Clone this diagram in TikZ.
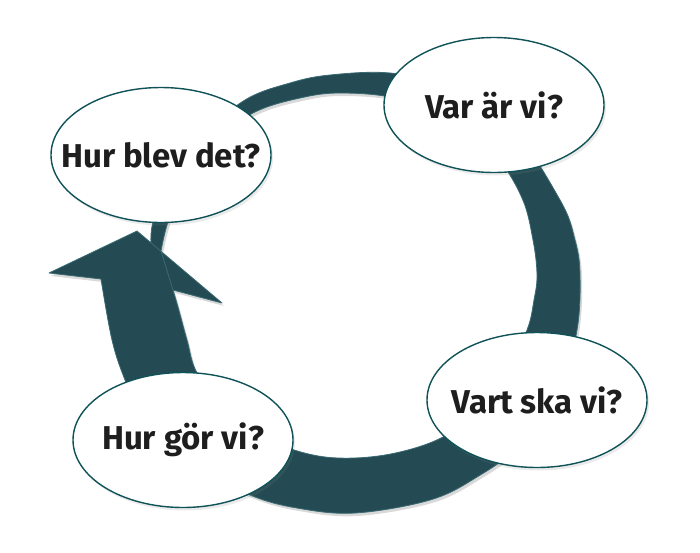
\documentclass[tikz,border=0pt]{standalone}
\usepackage{fontspec}
\setmainfont{Fira Sans}
\usetikzlibrary{shapes.geometric,shadows}
\definecolor{ringteal}{HTML}{244B53}
\definecolor{ringedge}{HTML}{3A6A72}
\definecolor{rimteal}{HTML}{0F5257}
\definecolor{labelgray}{HTML}{1E1E1E}

\begin{document}
\begin{tikzpicture}[x=1pt,y=-1pt,
    bubble/.style={ellipse,draw=rimteal,line width=1.4pt,fill=white,
      minimum width=220pt,minimum height=135pt,inner xsep=-50pt,inner ysep=0pt,
      font=\fontsize{33}{40}\selectfont\bfseries,text=labelgray,
      drop shadow={opacity=0.16,shadow xshift=2pt,shadow yshift=-3pt}},
    ring/.style={fill=ringteal,draw=ringedge,line width=0.8pt,line join=round,
      preaction={fill=black,opacity=0.15,transform canvas={shift={(2pt,-3pt)}}}}]
            \useasboundingbox (0,0) rectangle (700,552);
            % the ring with its arrowhead
            \path [ring] plot [smooth,tension=0.6] coordinates {(151,243) (153,222) (168,180) (200,138) (245,100) (290,83) (330,75) (390,73) (450,86) (510,125) (560,200) (575,240) (580,275) (577,330) (560,390) (520,445) (477,477) (430,500) (355,513) (297,508) (250,495) (190,465) (145,425) (125,380) (112,340) (101,279)}
              -- (49,273) -- (137,231) -- (222,303) -- (173,290)
              plot [smooth,tension=0.6] coordinates {(173,290) (178,307) (187,340) (197,373) (225,410) (270,440) (313,455) (355,458) (400,452) (443,437) (480,410) (505,375) (527,330) (534,300) (537,275) (533,240) (522,198) (495,155) (450,118) (395,98) (340,93) (300,98) (255,112) (215,140) (185,180) (168,222) (161,251)}
              -- cycle;
            % the four questions
            \node [bubble] (hurblev) at (161,155) {Hur blev det?};
            \node [bubble] (vararvi) at (494,105) {Var är vi?};
            \node [bubble] (vartska) at (537,400) {Vart ska vi?};
            \node [bubble] (hurgor) at (183,440) {Hur gör vi?};
\end{tikzpicture}
\end{document}
